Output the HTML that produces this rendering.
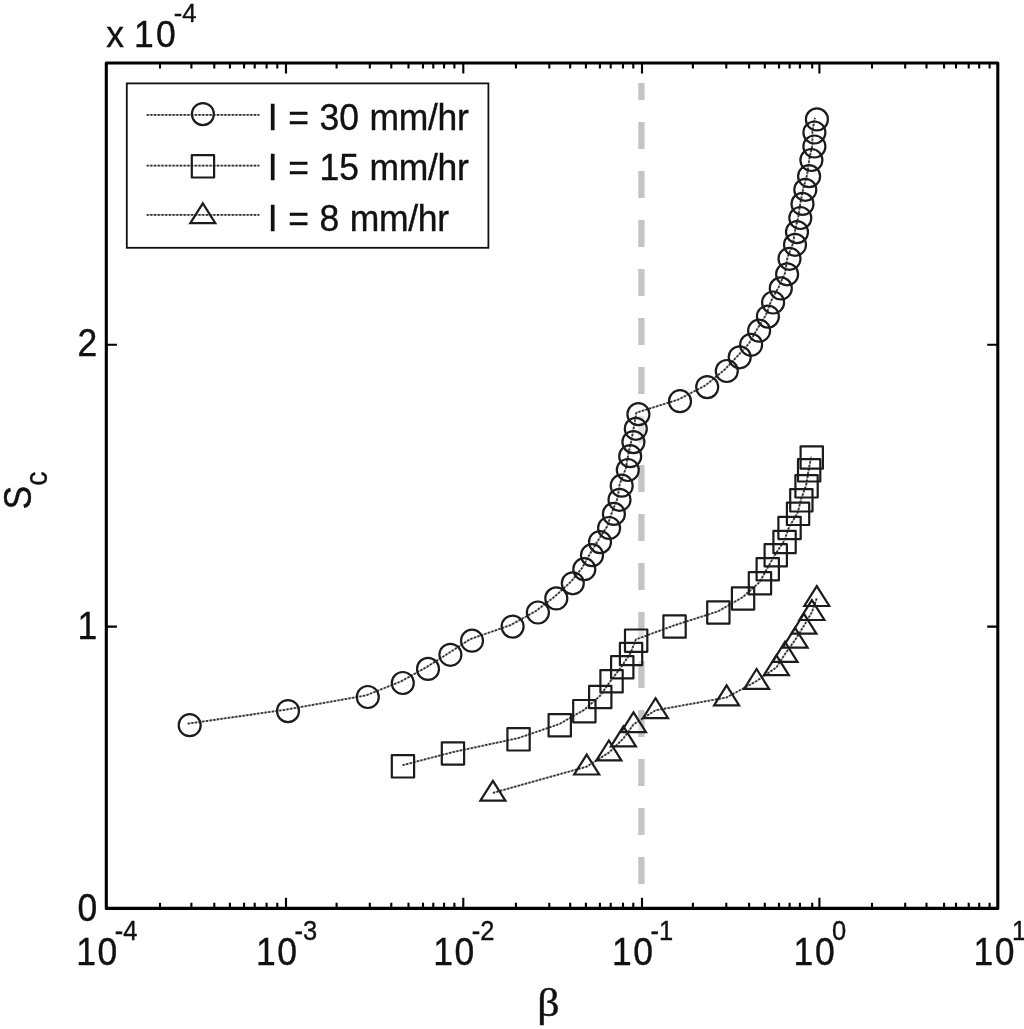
<!DOCTYPE html>
<html lang="en">
<head>
<meta charset="utf-8">
<title>Sc vs beta</title>
<style>
html,body{margin:0;padding:0;background:#fff;}
body{width:1024px;height:1029px;overflow:hidden;}
svg text{white-space:pre;}
svg{filter:blur(0.7px);}
</style>
</head>
<body>
<svg width="1024" height="1029" viewBox="0 0 1024 1029" style="display:block">
<rect x="0" y="0" width="1024" height="1029" fill="#ffffff"/>
<line x1="641.4" y1="83.0" x2="641.4" y2="900" stroke="#c4c4c4" stroke-width="6.3" stroke-dasharray="27 22" stroke-dashoffset="10"/>
<path d="M160.0 908.4v-5.6M160.0 63.0v5.6M191.4 908.4v-5.6M191.4 63.0v5.6M214.3 908.4v-5.6M214.3 63.0v5.6M229.9 908.4v-5.6M229.9 63.0v5.6M244.1 908.4v-5.6M244.1 63.0v5.6M254.7 908.4v-5.6M254.7 63.0v5.6M266.6 908.4v-5.6M266.6 63.0v5.6M277.3 908.4v-5.6M277.3 63.0v5.6M336.6 908.4v-5.6M336.6 63.0v5.6M369.8 908.4v-5.6M369.8 63.0v5.6M391.3 908.4v-5.6M391.3 63.0v5.6M408.5 908.4v-5.6M408.5 63.0v5.6M423.0 908.4v-5.6M423.0 63.0v5.6M433.3 908.4v-5.6M433.3 63.0v5.6M444.1 908.4v-5.6M444.1 63.0v5.6M454.4 908.4v-5.6M454.4 63.0v5.6M515.9 908.4v-5.6M515.9 63.0v5.6M549.3 908.4v-5.6M549.3 63.0v5.6M570.2 908.4v-5.6M570.2 63.0v5.6M585.9 908.4v-5.6M585.9 63.0v5.6M599.9 908.4v-5.6M599.9 63.0v5.6M610.7 908.4v-5.6M610.7 63.0v5.6M623.0 908.4v-5.6M623.0 63.0v5.6M633.3 908.4v-5.6M633.3 63.0v5.6M692.9 908.4v-5.6M692.9 63.0v5.6M726.3 908.4v-5.6M726.3 63.0v5.6M749.1 908.4v-5.6M749.1 63.0v5.6M764.8 908.4v-5.6M764.8 63.0v5.6M779.0 908.4v-5.6M779.0 63.0v5.6M789.6 908.4v-5.6M789.6 63.0v5.6M799.9 908.4v-5.6M799.9 63.0v5.6M812.2 908.4v-5.6M812.2 63.0v5.6M872.0 908.4v-5.6M872.0 63.0v5.6M905.2 908.4v-5.6M905.2 63.0v5.6M926.5 908.4v-5.6M926.5 63.0v5.6M944.1 908.4v-5.6M944.1 63.0v5.6M956.0 908.4v-5.6M956.0 63.0v5.6M968.7 908.4v-5.6M968.7 63.0v5.6M979.2 908.4v-5.6M979.2 63.0v5.6M989.6 908.4v-5.6M989.6 63.0v5.6M286.0 908.4v-10.6M286.0 63.0v10.6M463.3 908.4v-10.6M463.3 63.0v10.6M642.0 908.4v-10.6M642.0 63.0v10.6M819.4 908.4v-10.6M819.4 63.0v10.6M106.3 626.60h10.6M997.8 626.60h-10.6M106.3 344.80h10.6M997.8 344.80h-10.6" stroke="#000" stroke-width="2.1" fill="none"/>
<g fill="#fff" fill-opacity="0.5" stroke="none">
<circle cx="189.7" cy="725.2" r="11.0"/>
<circle cx="288.0" cy="711.1" r="11.0"/>
<circle cx="367.8" cy="697.0" r="11.0"/>
<circle cx="402.8" cy="683.0" r="11.0"/>
<circle cx="428.0" cy="668.9" r="11.0"/>
<circle cx="450.4" cy="654.8" r="11.0"/>
<circle cx="472.0" cy="640.7" r="11.0"/>
<circle cx="512.6" cy="626.6" r="11.0"/>
<circle cx="537.9" cy="612.5" r="11.0"/>
<circle cx="556.3" cy="598.4" r="11.0"/>
<circle cx="572.8" cy="583.3" r="11.0"/>
<circle cx="584.3" cy="569.2" r="11.0"/>
<circle cx="592.0" cy="555.2" r="11.0"/>
<circle cx="600.0" cy="542.1" r="11.0"/>
<circle cx="609.1" cy="528.0" r="11.0"/>
<circle cx="613.9" cy="513.9" r="11.0"/>
<circle cx="619.5" cy="499.8" r="11.0"/>
<circle cx="621.7" cy="485.7" r="11.0"/>
<circle cx="627.8" cy="470.0" r="11.0"/>
<circle cx="630.2" cy="456.2" r="11.0"/>
<circle cx="633.4" cy="442.1" r="11.0"/>
<circle cx="635.8" cy="428.8" r="11.0"/>
<circle cx="638.4" cy="414.2" r="11.0"/>
<circle cx="680.0" cy="401.2" r="11.0"/>
<circle cx="707.2" cy="387.1" r="11.0"/>
<circle cx="726.8" cy="371.0" r="11.0"/>
<circle cx="739.7" cy="357.3" r="11.0"/>
<circle cx="751.1" cy="344.8" r="11.0"/>
<circle cx="759.1" cy="330.7" r="11.0"/>
<circle cx="767.9" cy="316.6" r="11.0"/>
<circle cx="773.1" cy="302.5" r="11.0"/>
<circle cx="780.8" cy="288.4" r="11.0"/>
<circle cx="787.1" cy="274.3" r="11.0"/>
<circle cx="789.5" cy="258.8" r="11.0"/>
<circle cx="795.0" cy="244.8" r="11.0"/>
<circle cx="797.0" cy="232.1" r="11.0"/>
<circle cx="800.3" cy="218.0" r="11.0"/>
<circle cx="802.5" cy="203.9" r="11.0"/>
<circle cx="805.3" cy="189.8" r="11.0"/>
<circle cx="809.1" cy="176.2" r="11.0"/>
<circle cx="811.4" cy="160.0" r="11.0"/>
<circle cx="814.4" cy="146.5" r="11.0"/>
<circle cx="814.4" cy="132.5" r="11.0"/>
<circle cx="816.9" cy="119.4" r="11.0"/>
</g>
<polyline points="187.7,723.7 286.0,709.6 365.8,695.5 400.8,681.5 426.0,667.4 448.4,653.3 470.0,639.2 510.6,625.1 535.9,611.0 554.3,596.9 570.8,581.8 582.3,567.7 590.0,553.7 598.0,540.6 607.1,526.5 611.9,512.4 617.5,498.3 619.7,484.2 625.8,468.5 628.2,454.7 631.4,440.6 633.8,427.3 636.4,412.7 678.0,399.7 705.2,385.6 724.8,369.5 737.7,355.8 749.1,343.3 757.1,329.2 765.9,315.1 771.1,301.0 778.8,286.9 785.1,272.8 787.5,257.3 793.0,243.3 795.0,230.6 798.3,216.5 800.5,202.4 803.3,188.3 807.1,174.7 809.4,158.5 812.4,145.0 812.4,131.0 814.9,117.9" stroke="#b4b4b4" stroke-width="1.8" fill="none"/>
<polyline points="187.7,723.7 286.0,709.6 365.8,695.5 400.8,681.5 426.0,667.4 448.4,653.3 470.0,639.2 510.6,625.1 535.9,611.0 554.3,596.9 570.8,581.8 582.3,567.7 590.0,553.7 598.0,540.6 607.1,526.5 611.9,512.4 617.5,498.3 619.7,484.2 625.8,468.5 628.2,454.7 631.4,440.6 633.8,427.3 636.4,412.7 678.0,399.7 705.2,385.6 724.8,369.5 737.7,355.8 749.1,343.3 757.1,329.2 765.9,315.1 771.1,301.0 778.8,286.9 785.1,272.8 787.5,257.3 793.0,243.3 795.0,230.6 798.3,216.5 800.5,202.4 803.3,188.3 807.1,174.7 809.4,158.5 812.4,145.0 812.4,131.0 814.9,117.9" stroke="#303030" stroke-width="1.8" stroke-dasharray="2.0 1.7" fill="none"/>
<g fill="none" stroke="#1c1c1c" stroke-width="2.2" stroke-linejoin="round">
<circle cx="189.7" cy="725.2" r="11.0"/>
<circle cx="288.0" cy="711.1" r="11.0"/>
<circle cx="367.8" cy="697.0" r="11.0"/>
<circle cx="402.8" cy="683.0" r="11.0"/>
<circle cx="428.0" cy="668.9" r="11.0"/>
<circle cx="450.4" cy="654.8" r="11.0"/>
<circle cx="472.0" cy="640.7" r="11.0"/>
<circle cx="512.6" cy="626.6" r="11.0"/>
<circle cx="537.9" cy="612.5" r="11.0"/>
<circle cx="556.3" cy="598.4" r="11.0"/>
<circle cx="572.8" cy="583.3" r="11.0"/>
<circle cx="584.3" cy="569.2" r="11.0"/>
<circle cx="592.0" cy="555.2" r="11.0"/>
<circle cx="600.0" cy="542.1" r="11.0"/>
<circle cx="609.1" cy="528.0" r="11.0"/>
<circle cx="613.9" cy="513.9" r="11.0"/>
<circle cx="619.5" cy="499.8" r="11.0"/>
<circle cx="621.7" cy="485.7" r="11.0"/>
<circle cx="627.8" cy="470.0" r="11.0"/>
<circle cx="630.2" cy="456.2" r="11.0"/>
<circle cx="633.4" cy="442.1" r="11.0"/>
<circle cx="635.8" cy="428.8" r="11.0"/>
<circle cx="638.4" cy="414.2" r="11.0"/>
<circle cx="680.0" cy="401.2" r="11.0"/>
<circle cx="707.2" cy="387.1" r="11.0"/>
<circle cx="726.8" cy="371.0" r="11.0"/>
<circle cx="739.7" cy="357.3" r="11.0"/>
<circle cx="751.1" cy="344.8" r="11.0"/>
<circle cx="759.1" cy="330.7" r="11.0"/>
<circle cx="767.9" cy="316.6" r="11.0"/>
<circle cx="773.1" cy="302.5" r="11.0"/>
<circle cx="780.8" cy="288.4" r="11.0"/>
<circle cx="787.1" cy="274.3" r="11.0"/>
<circle cx="789.5" cy="258.8" r="11.0"/>
<circle cx="795.0" cy="244.8" r="11.0"/>
<circle cx="797.0" cy="232.1" r="11.0"/>
<circle cx="800.3" cy="218.0" r="11.0"/>
<circle cx="802.5" cy="203.9" r="11.0"/>
<circle cx="805.3" cy="189.8" r="11.0"/>
<circle cx="809.1" cy="176.2" r="11.0"/>
<circle cx="811.4" cy="160.0" r="11.0"/>
<circle cx="814.4" cy="146.5" r="11.0"/>
<circle cx="814.4" cy="132.5" r="11.0"/>
<circle cx="816.9" cy="119.4" r="11.0"/>
</g>
<g fill="#fff" fill-opacity="0.5" stroke="none">
<rect x="391.8" y="755.2" width="22.3" height="22.3"/>
<rect x="441.8" y="742.3" width="22.3" height="22.3"/>
<rect x="507.4" y="728.2" width="22.3" height="22.3"/>
<rect x="548.6" y="714.1" width="22.3" height="22.3"/>
<rect x="573.2" y="700.0" width="22.3" height="22.3"/>
<rect x="589.1" y="685.9" width="22.3" height="22.3"/>
<rect x="600.4" y="670.1" width="22.3" height="22.3"/>
<rect x="611.1" y="656.1" width="22.3" height="22.3"/>
<rect x="619.9" y="642.9" width="22.3" height="22.3"/>
<rect x="625.0" y="629.5" width="22.3" height="22.3"/>
<rect x="663.4" y="615.4" width="22.3" height="22.3"/>
<rect x="707.2" y="601.4" width="22.3" height="22.3"/>
<rect x="731.9" y="587.3" width="22.3" height="22.3"/>
<rect x="748.8" y="572.1" width="22.3" height="22.3"/>
<rect x="756.6" y="558.1" width="22.3" height="22.3"/>
<rect x="764.6" y="544.1" width="22.3" height="22.3"/>
<rect x="773.4" y="530.9" width="22.3" height="22.3"/>
<rect x="778.4" y="516.8" width="22.3" height="22.3"/>
<rect x="786.9" y="502.7" width="22.3" height="22.3"/>
<rect x="790.2" y="489.2" width="22.3" height="22.3"/>
<rect x="795.4" y="475.2" width="22.3" height="22.3"/>
<rect x="798.0" y="459.2" width="22.3" height="22.3"/>
<rect x="800.6" y="446.4" width="22.3" height="22.3"/>
</g>
<polyline points="402.6,765.2 452.6,752.2 518.2,738.1 559.4,724.0 584.1,709.9 600.0,695.8 611.2,680.1 621.9,666.1 630.7,652.8 635.8,639.5 674.2,625.4 718.1,611.3 742.7,597.2 759.6,582.1 767.4,568.1 775.4,554.1 784.2,540.9 789.2,526.8 797.7,512.7 801.1,499.1 806.2,485.1 808.8,469.1 811.4,456.3" stroke="#b4b4b4" stroke-width="1.8" fill="none"/>
<polyline points="402.6,765.2 452.6,752.2 518.2,738.1 559.4,724.0 584.1,709.9 600.0,695.8 611.2,680.1 621.9,666.1 630.7,652.8 635.8,639.5 674.2,625.4 718.1,611.3 742.7,597.2 759.6,582.1 767.4,568.1 775.4,554.1 784.2,540.9 789.2,526.8 797.7,512.7 801.1,499.1 806.2,485.1 808.8,469.1 811.4,456.3" stroke="#303030" stroke-width="1.8" stroke-dasharray="2.0 1.7" fill="none"/>
<g fill="none" stroke="#1c1c1c" stroke-width="2.2" stroke-linejoin="round">
<rect x="391.8" y="755.2" width="22.3" height="22.3"/>
<rect x="441.8" y="742.3" width="22.3" height="22.3"/>
<rect x="507.4" y="728.2" width="22.3" height="22.3"/>
<rect x="548.6" y="714.1" width="22.3" height="22.3"/>
<rect x="573.2" y="700.0" width="22.3" height="22.3"/>
<rect x="589.1" y="685.9" width="22.3" height="22.3"/>
<rect x="600.4" y="670.1" width="22.3" height="22.3"/>
<rect x="611.1" y="656.1" width="22.3" height="22.3"/>
<rect x="619.9" y="642.9" width="22.3" height="22.3"/>
<rect x="625.0" y="629.5" width="22.3" height="22.3"/>
<rect x="663.4" y="615.4" width="22.3" height="22.3"/>
<rect x="707.2" y="601.4" width="22.3" height="22.3"/>
<rect x="731.9" y="587.3" width="22.3" height="22.3"/>
<rect x="748.8" y="572.1" width="22.3" height="22.3"/>
<rect x="756.6" y="558.1" width="22.3" height="22.3"/>
<rect x="764.6" y="544.1" width="22.3" height="22.3"/>
<rect x="773.4" y="530.9" width="22.3" height="22.3"/>
<rect x="778.4" y="516.8" width="22.3" height="22.3"/>
<rect x="786.9" y="502.7" width="22.3" height="22.3"/>
<rect x="790.2" y="489.2" width="22.3" height="22.3"/>
<rect x="795.4" y="475.2" width="22.3" height="22.3"/>
<rect x="798.0" y="459.2" width="22.3" height="22.3"/>
<rect x="800.6" y="446.4" width="22.3" height="22.3"/>
</g>
<g fill="#fff" fill-opacity="0.5" stroke="none">
<path stroke-linejoin="miter" d="M492.9 780.8L505.4 800.7L480.4 800.7Z"/>
<path stroke-linejoin="miter" d="M586.7 754.6L599.2 774.5L574.2 774.5Z"/>
<path stroke-linejoin="miter" d="M608.9 740.5L621.4 760.4L596.4 760.4Z"/>
<path stroke-linejoin="miter" d="M623.4 726.4L635.9 746.3L610.9 746.3Z"/>
<path stroke-linejoin="miter" d="M633.5 712.3L646.0 732.2L621.0 732.2Z"/>
<path stroke-linejoin="miter" d="M655.5 698.2L668.0 718.1L643.0 718.1Z"/>
<path stroke-linejoin="miter" d="M726.6 685.4L739.1 705.3L714.1 705.3Z"/>
<path stroke-linejoin="miter" d="M756.6 669.0L769.1 688.9L744.1 688.9Z"/>
<path stroke-linejoin="miter" d="M776.4 655.3L788.9 675.2L763.9 675.2Z"/>
<path stroke-linejoin="miter" d="M785.0 641.9L797.5 661.8L772.5 661.8Z"/>
<path stroke-linejoin="miter" d="M795.1 627.8L807.6 647.7L782.6 647.7Z"/>
<path stroke-linejoin="miter" d="M803.9 613.7L816.4 633.6L791.4 633.6Z"/>
<path stroke-linejoin="miter" d="M811.9 600.1L824.4 620.0L799.4 620.0Z"/>
<path stroke-linejoin="miter" d="M816.8 586.1L829.3 606.0L804.3 606.0Z"/>
</g>
<polyline points="492.9,792.9 586.7,766.7 608.9,752.6 623.4,738.5 633.5,724.4 655.5,710.3 726.6,697.5 756.6,681.1 776.4,667.4 785.0,654.0 795.1,639.9 803.9,625.8 811.9,612.2 816.8,598.2" stroke="#b4b4b4" stroke-width="1.8" fill="none"/>
<polyline points="492.9,792.9 586.7,766.7 608.9,752.6 623.4,738.5 633.5,724.4 655.5,710.3 726.6,697.5 756.6,681.1 776.4,667.4 785.0,654.0 795.1,639.9 803.9,625.8 811.9,612.2 816.8,598.2" stroke="#303030" stroke-width="1.8" stroke-dasharray="2.0 1.7" fill="none"/>
<g fill="none" stroke="#1c1c1c" stroke-width="2.2" stroke-linejoin="round">
<path stroke-linejoin="miter" d="M492.9 780.8L505.4 800.7L480.4 800.7Z"/>
<path stroke-linejoin="miter" d="M586.7 754.6L599.2 774.5L574.2 774.5Z"/>
<path stroke-linejoin="miter" d="M608.9 740.5L621.4 760.4L596.4 760.4Z"/>
<path stroke-linejoin="miter" d="M623.4 726.4L635.9 746.3L610.9 746.3Z"/>
<path stroke-linejoin="miter" d="M633.5 712.3L646.0 732.2L621.0 732.2Z"/>
<path stroke-linejoin="miter" d="M655.5 698.2L668.0 718.1L643.0 718.1Z"/>
<path stroke-linejoin="miter" d="M726.6 685.4L739.1 705.3L714.1 705.3Z"/>
<path stroke-linejoin="miter" d="M756.6 669.0L769.1 688.9L744.1 688.9Z"/>
<path stroke-linejoin="miter" d="M776.4 655.3L788.9 675.2L763.9 675.2Z"/>
<path stroke-linejoin="miter" d="M785.0 641.9L797.5 661.8L772.5 661.8Z"/>
<path stroke-linejoin="miter" d="M795.1 627.8L807.6 647.7L782.6 647.7Z"/>
<path stroke-linejoin="miter" d="M803.9 613.7L816.4 633.6L791.4 633.6Z"/>
<path stroke-linejoin="miter" d="M811.9 600.1L824.4 620.0L799.4 620.0Z"/>
<path stroke-linejoin="miter" d="M816.8 586.1L829.3 606.0L804.3 606.0Z"/>
</g>
<rect x="106.3" y="63.0" width="891.5" height="845.4" fill="none" stroke="#000" stroke-width="3.1" stroke-linejoin="round"/>
<rect x="126.8" y="83.4" width="361.6" height="164.4" fill="#fff" stroke="#111" stroke-width="1.8"/>
<line x1="146.7" y1="114.9" x2="259.4" y2="114.9" stroke="#b4b4b4" stroke-width="1.8" fill="none"/>
<line x1="146.7" y1="114.9" x2="259.4" y2="114.9" stroke="#303030" stroke-width="1.8" stroke-dasharray="2.0 1.7" fill="none"/>
<line x1="146.7" y1="165.7" x2="259.4" y2="165.7" stroke="#b4b4b4" stroke-width="1.8" fill="none"/>
<line x1="146.7" y1="165.7" x2="259.4" y2="165.7" stroke="#303030" stroke-width="1.8" stroke-dasharray="2.0 1.7" fill="none"/>
<line x1="146.7" y1="214.9" x2="259.4" y2="214.9" stroke="#b4b4b4" stroke-width="1.8" fill="none"/>
<line x1="146.7" y1="214.9" x2="259.4" y2="214.9" stroke="#303030" stroke-width="1.8" stroke-dasharray="2.0 1.7" fill="none"/>
<g fill="none" stroke="#1c1c1c" stroke-width="2.2" stroke-linejoin="round">
<circle cx="202.9" cy="114.1" r="11.0"/>
<rect x="191.8" y="155.2" width="22.3" height="22.3"/>
<path stroke-linejoin="miter" d="M202.8 203.3L215.3 223.2L190.3 223.2Z"/>
</g>
<g font-family="Liberation Sans, Arial, Helvetica, sans-serif" font-size="35.5" fill="#111" stroke="#111" stroke-width="0.35">
<text word-spacing="0.7" transform="translate(267.8 129.5) scale(1 1.055)">I = 30 <tspan letter-spacing="-0.3">mm/hr</tspan></text>
<text word-spacing="0.7" transform="translate(267.8 180.4) scale(1 1.055)">I = 15 <tspan letter-spacing="-0.3">mm/hr</tspan></text>
<text word-spacing="0.7" transform="translate(267.8 231.1) scale(1 1.055)">I = 8 <tspan letter-spacing="-0.3">mm/hr</tspan></text>
<text transform="translate(106.3 47.4) scale(1 1.03)">x <tspan letter-spacing="2.4">10</tspan><tspan font-size="25.5" dx="-4.5" dy="-24.66">-4</tspan></text>
<text transform="translate(97.2 920.6) scale(1 1.08)" text-anchor="end">0</text>
<text transform="translate(97.2 638.8) scale(1 1.08)" text-anchor="end">1</text>
<text transform="translate(97.2 356.3) scale(1 1.08)" text-anchor="end">2</text>
<text transform="translate(106.8 964.8) scale(1 1.08)" text-anchor="middle"><tspan letter-spacing="1.6">10</tspan><tspan font-size="25.5" dx="-4.2" dy="-22.96">-4</tspan></text>
<text transform="translate(286.5 964.8) scale(1 1.08)" text-anchor="middle"><tspan letter-spacing="1.6">10</tspan><tspan font-size="25.5" dx="-4.2" dy="-22.96">-3</tspan></text>
<text transform="translate(463.8 964.8) scale(1 1.08)" text-anchor="middle"><tspan letter-spacing="1.6">10</tspan><tspan font-size="25.5" dx="-4.2" dy="-22.96">-2</tspan></text>
<text transform="translate(642.5 964.8) scale(1 1.08)" text-anchor="middle"><tspan letter-spacing="1.6">10</tspan><tspan font-size="25.5" dx="-4.2" dy="-22.96">-1</tspan></text>
<text transform="translate(819.9 964.8) scale(1 1.08)" text-anchor="middle"><tspan letter-spacing="1.6">10</tspan><tspan font-size="25.5" dx="-4.2" dy="-22.96">0</tspan></text>
<text transform="translate(999.8 964.8) scale(1 1.08)" text-anchor="middle"><tspan letter-spacing="1.6">10</tspan><tspan font-size="25.5" dx="-4.2" dy="-22.96">1</tspan></text>
<text transform="translate(30.8 509.5) rotate(-90) scale(1 1.08)">S<tspan font-size="28.5" dy="15.28">c</tspan></text>
</g>
<text transform="translate(548.4 1016.4) scale(1.09 1)" text-anchor="middle" font-family="Liberation Serif, Times New Roman, serif" font-size="40.3" fill="#111" stroke="#111" stroke-width="0.4">β</text>
</svg>
</body>
</html>
